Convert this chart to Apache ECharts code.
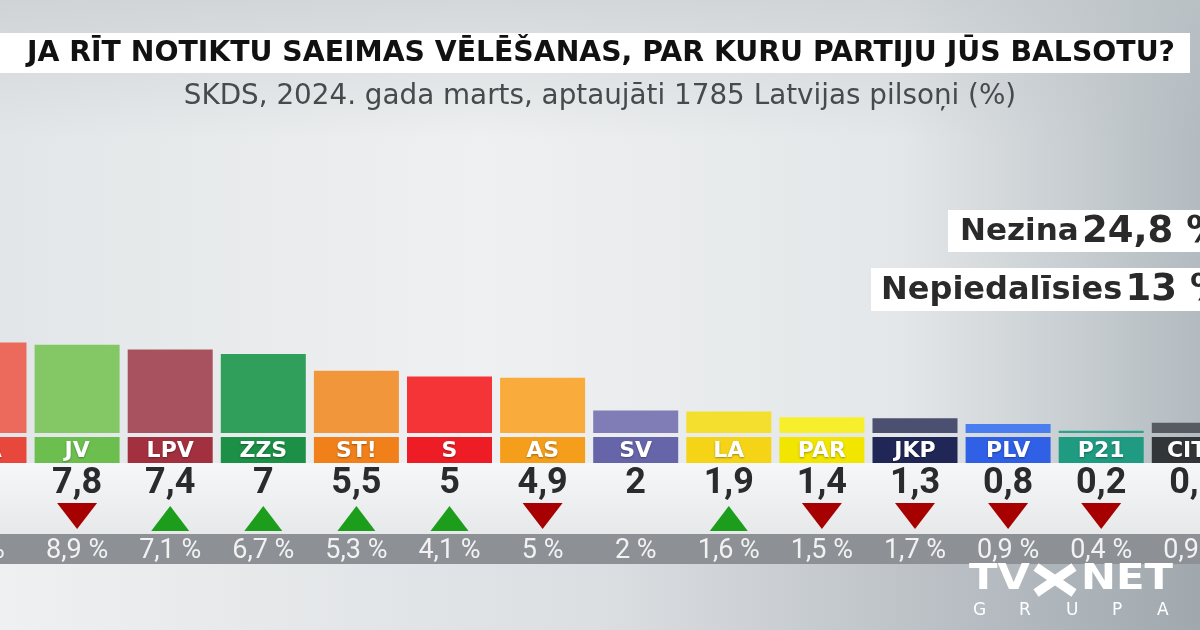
<!DOCTYPE html>
<html><head><meta charset="utf-8">
<script src="https://cdn.jsdelivr.net/npm/echarts@6/dist/echarts.min.js"></script>
<style>html,body{margin:0;padding:0;background:#e3e6e8}#c{width:1200px;height:630px}</style>
</head><body><div id="c"></div>
<script>
const titleText = 'JA RĪT NOTIKTU SAEIMAS VĒLĒŠANAS, PAR KURU PARTIJU JŪS BALSOTU?';
const subtitleText = 'SKDS, 2024. gada marts, aptaujāti 1785 Latvijas pilsoņi (%)';
const parties = ['NA', 'JV', 'LPV', 'ZZS', 'ST!', 'S', 'AS', 'SV', 'LA', 'PAR', 'JKP', 'PLV', 'P21', 'CITA'];
const values = [8, 7.8, 7.4, 7, 5.5, 5, 4.9, 2, 1.9, 1.4, 1.3, 0.8, 0.2, 0.9];
const previous = [8, 8.9, 7.1, 6.7, 5.3, 4.1, 5, 2, 1.6, 1.5, 1.7, 0.9, 0.4, 0.9];
const barColors = ['#ec6a5c', '#84c866', '#a9525f', '#2f9f5b', '#f2963b', '#f53438', '#f9ab3b', '#7f7cb6', '#f4df2f', '#f8ef2c', '#4b4f70', '#4a7def', '#2ba48b', '#575b61'];
const labelColors = ['#e8473b', '#6cbf4f', '#a3303f', '#1b9046', '#f1801b', '#ee1d25', '#f59e1b', '#6765a9', '#f5d418', '#f2e500', '#202656', '#2f60e6', '#1e9b81', '#333639'];
const otherLabels = ['Nezina', 'Nepiedalīsies'];
const otherValues = [24.8, 13];

const fmt = v => String(v).replace('.', ',');
const chart = echarts.init(document.getElementById('c'), null, {renderer: 'canvas'});

const otherGraphics = [];
const otherBoxes = [{x: 948, y: 210, w: 260, h: 42, tx: 960, fs: 31}, {x: 871, y: 268, w: 340, h: 43, tx: 881, fs: 32}];
otherLabels.forEach((lab, k) => {
  const b = otherBoxes[k];
  otherGraphics.push({type: 'rect', z: 50, shape: {x: b.x, y: b.y, width: b.w, height: b.h}, style: {fill: '#ffffff'}});
  otherGraphics.push({type: 'text', z: 51, style: {
    text: '{a|' + lab + '} {b|' + fmt(otherValues[k]) + ' %}',
    x: b.tx, y: b.y + b.h / 2 + 1, verticalAlign: 'middle', align: 'left',
    rich: {
      a: {fontFamily: 'DejaVu Sans', fontWeight: 'bold', fontSize: b.fs, fill: '#2a2a2a'},
      b: {fontFamily: 'DejaVu Sans', fontWeight: 'bold', fontSize: 37, fill: '#2a2a2a'}
    }
  }});
});

const grupaLetters = ['G', 'R', 'U', 'P', 'A'];
const grupaX = [973, 1019, 1066, 1112, 1157];
const grupaGraphics = grupaLetters.map((ch, k) => ({type: 'text', z: 60, style: {text: ch, x: grupaX[k], y: 611,
  align: 'left', verticalAlign: 'middle', fontFamily: 'DejaVu Sans', fontWeight: 'normal', fontSize: 17, fill: '#ffffff'}}));

const option = {
  animation: false,
  grid: {left: 0, right: 0, top: 320, bottom: 197, containLabel: false},
  xAxis: {type: 'value', min: 0.17186, max: 13.0612, show: false},
  yAxis: {type: 'value', min: 0, max: 10, show: false},
  graphic: [
    {type: 'rect', z: -100, shape: {x: 0, y: 0, width: 1200, height: 630},
      style: {fill: {type: 'linear', x: 0, y: 0, x2: 1, y2: 0, colorStops: [
        {offset: 0, color: '#e3e6e8'}, {offset: 0.4, color: '#eef0f1'}, {offset: 0.75, color: '#e4e7e9'}, {offset: 1, color: '#b3bbc0'}]}}},
    {type: 'rect', z: -95, shape: {x: 0, y: 0, width: 1200, height: 140},
      style: {fill: {type: 'linear', x: 0, y: 0, x2: 0, y2: 1, colorStops: [
        {offset: 0, color: 'rgba(190,196,200,0.55)'}, {offset: 1, color: 'rgba(190,196,200,0)'}]}}},
    {type: 'rect', z: -90, shape: {x: 0, y: 463, width: 1200, height: 71},
      style: {fill: {type: 'linear', x: 0, y: 0, x2: 0, y2: 1, colorStops: [
        {offset: 0, color: '#f6f7f8'}, {offset: 1, color: '#e6e8ea'}]}}},
    {type: 'rect', z: -90, shape: {x: 0, y: 564, width: 1200, height: 66},
      style: {fill: {type: 'linear', x: 0, y: 0, x2: 1, y2: 0, colorStops: [
        {offset: 0, color: '#eef0f1'}, {offset: 0.5, color: '#dcdfe2'}, {offset: 1, color: '#a0a8ae'}]}}},
    {type: 'rect', z: -80, shape: {x: 0, y: 534, width: 1200, height: 30}, style: {fill: '#8d9196'}},
    {type: 'rect', z: 10, shape: {x: 0, y: 33, width: 1190, height: 40}, style: {fill: '#ffffff'}},
    {type: 'text', z: 11, style: {text: titleText, x: 601, y: 54, align: 'center', verticalAlign: 'middle',
      fontFamily: 'DejaVu Sans', fontWeight: 'bold', fontSize: 28.3, fill: '#111111'}},
    {type: 'text', z: 11, style: {text: subtitleText, x: 600, y: 97, align: 'center', verticalAlign: 'middle',
      fontFamily: 'DejaVu Sans', fontSize: 27.8, fill: '#474a4d'}},
    ...otherGraphics,
    {type: 'text', z: 60, x: 969, y: 580, scaleX: 1.16, style: {text: 'TV', x: 0, y: 0, align: 'left', verticalAlign: 'middle',
      fontFamily: 'DejaVu Sans', fontWeight: 'bold', fontSize: 36, fill: '#ffffff'}},
    {type: 'polyline', z: 60, shape: {points: [[1036, 567], [1074, 593]]}, style: {stroke: '#ffffff', lineWidth: 9}},
    {type: 'polyline', z: 60, shape: {points: [[1074, 567], [1036, 593]]}, style: {stroke: '#ffffff', lineWidth: 9}},
    {type: 'text', z: 60, x: 1081, y: 580, scaleX: 1.16, style: {text: 'NET', x: 0, y: 0, align: 'left', verticalAlign: 'middle',
      fontFamily: 'DejaVu Sans', fontWeight: 'bold', fontSize: 36, fill: '#ffffff'}},
    ...grupaGraphics
  ],
  series: [
    {type: 'bar', barWidth: 85, z: 2,
      data: values.map((v, i) => ({value: [i, v], itemStyle: {color: barColors[i]}}))},
    {type: 'custom', z: 3, clip: false,
      data: values.map((v, i) => [i, v]),
      renderItem: function (params, api) {
        const i = api.value(0);
        const p = api.coord([i, 0]);
        const cx = p[0], by = p[1];
        const w = 85;
        const ch = [
          {type: 'rect', shape: {x: cx - w / 2, y: by + 4, width: w, height: 26}, style: {fill: labelColors[i]}},
          {type: 'text', style: {text: parties[i], x: cx, y: by + 18, align: 'center', verticalAlign: 'middle',
            fontFamily: 'DejaVu Sans', fontWeight: 'bold', fontSize: 22, fill: '#ffffff',
            textShadowColor: 'rgba(0,0,0,0.35)', textShadowBlur: 2, textShadowOffsetY: 1}},
          {type: 'text', style: {text: fmt(values[i]), x: cx, y: by + 51, align: 'center', verticalAlign: 'middle',
            fontFamily: 'Roboto', fontWeight: 'bold', fontSize: 36, fill: '#2b2b2b'}},
          {type: 'text', style: {text: fmt(previous[i]) + ' %', x: cx, y: by + 118, align: 'center', verticalAlign: 'middle',
            fontFamily: 'Roboto', fontSize: 27, fill: '#f2f2f2'}}
        ];
        const d = values[i] - previous[i];
        if (d > 0) {
          ch.push({type: 'polygon', shape: {points: [[cx, by + 73], [cx + 19, by + 98], [cx - 19, by + 98]]}, style: {fill: '#1c9e1c'}});
        } else if (d < 0) {
          ch.push({type: 'polygon', shape: {points: [[cx - 20, by + 70], [cx + 20, by + 70], [cx, by + 96]]}, style: {fill: '#a60000'}});
        }
        return {type: 'group', children: ch};
      }
    }
  ]
};
chart.setOption(option);
</script></body></html>
